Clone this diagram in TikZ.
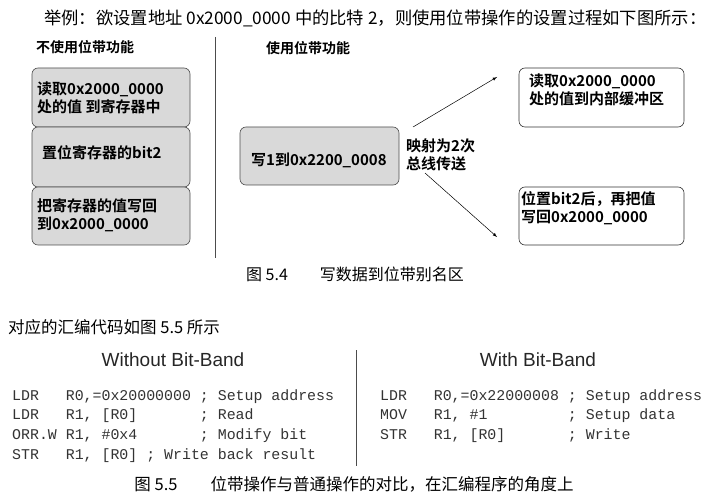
\documentclass[tikz,border=0pt]{standalone}
\usepackage{fontspec}
\setmainfont{Liberation Sans}
\setmonofont{Liberation Mono}
\newfontfamily\cjk{Noto Sans CJK SC}
\newfontfamily\cjkb{Noto Sans CJK SC}[BoldFont={* Bold}]
\newcommand\pad[1]{\hphantom{\texttt{#1}}}
\begin{document}
\begin{tikzpicture}[x=1pt,y=-1pt,
  gbox/.style={draw=black!70,fill=gray!30,rounded corners=6pt,line width=0.6pt},
  wbox/.style={draw=black!80,fill=white,rounded corners=6pt,line width=0.6pt},
  btxt/.style={font=\cjkb\bfseries\fontsize{15}{18.5}\selectfont,align=left,anchor=west,inner sep=1pt},
  arr/.style={-latex,line width=0.5pt},
  code/.style={font=\ttfamily\fontsize{14.9}{16}\selectfont,anchor=base west,inner sep=0pt,text=black!80}]
\useasboundingbox (0,0) rectangle (711,502);
\node[font=\cjk\fontsize{17.3}{19}\selectfont,anchor=west,inner sep=0pt] (t) at (44,18) {举例：欲设置地址 0x2000\_0000 中的比特 2，则使用位带操作的设置过程如下图所示：};
\node[btxt,font=\cjkb\bfseries\fontsize{14}{16}\selectfont] (h1) at (35,47) {不使用位带功能};
\node[btxt,font=\cjkb\bfseries\fontsize{14}{16}\selectfont] (h2) at (265,48) {使用位带功能};
\draw[black!70] (215,37) -- (215,258);
\draw[gbox] (32,68) rectangle (190,127);
\draw[gbox] (32,127) rectangle (190,187);
\draw[gbox] (32,187) rectangle (190,245);
\node[btxt] (a1) at (36,98) {读取0x2000\_0000\\处的值 到寄存器中};
\node[btxt] (a2) at (41,153) {置位寄存器的bit2};
\node[btxt] (a3) at (36,215) {把寄存器的值写回\\到0x2000\_0000};
\draw[gbox] (240,127) rectangle (399,185);
\node[btxt] (m) at (250,160) {写1到0x2200\_0008};
\node[btxt] (lab) at (405,155) {映射为2次\\总线传送};
\draw[wbox] (519,68) rectangle (684,127);
\draw[wbox] (519,187) rectangle (684,245);
\node[btxt] (r1) at (528,90) {读取0x2000\_0000\\处的值到内部缓冲区};
\node[btxt] (r2) at (520,208) {位置bit2后，再把值\\写回0x2000\_0000};
\coordinate (s1) at (413,127); \coordinate (e1) at (497,77);
\coordinate (s2) at (425,173); \coordinate (e2) at (497,237);
\draw[arr] (s1) -- (e1);
\draw[arr] (s2) -- (e2);
\node[font=\cjk\fontsize{16}{18}\selectfont] (c1) at (355,274) {图 5.4\hspace{2em}写数据到位带别名区};
\node[font=\cjk\fontsize{16.5}{18}\selectfont,anchor=west,inner sep=0pt] (p) at (8,327) {对应的汇编代码如图 5.5 所示};
\node[font=\fontsize{19}{21}\selectfont,text=black!85] (w1) at (173,360) {Without Bit-Band};
\node[font=\fontsize{19}{21}\selectfont,text=black!85] (w2) at (538,360) {With Bit-Band};
\draw[black!70] (356,350) -- (356,466);
\node[code] at (12,400) {LDR\pad{000}R0,=0x20000000\pad{0}; Setup address};
\node[code] at (12,419) {LDR\pad{000}R1,\pad{0}[R0]\pad{0000000}; Read};
\node[code] at (12,439) {ORR.W\pad{0}R1,\pad{0}\#0x4\pad{0000000}; Modify bit};
\node[code] at (12,459) {STR\pad{000}R1,\pad{0}[R0]\pad{0}; Write back result};
\node[code] at (380,400) {LDR\pad{000}R0,=0x22000008\pad{0}; Setup address};
\node[code] at (380,419) {MOV\pad{000}R1,\pad{0}\#1\pad{000000000}; Setup data};
\node[code] at (380,439) {STR\pad{000}R1,\pad{0}[R0]\pad{0000000}; Write};
\node[font=\cjk\fontsize{16.5}{18}\selectfont] (c2) at (354,484) {图 5.5\hspace{2em}位带操作与普通操作的对比，在汇编程序的角度上};
\end{tikzpicture}
\end{document}
